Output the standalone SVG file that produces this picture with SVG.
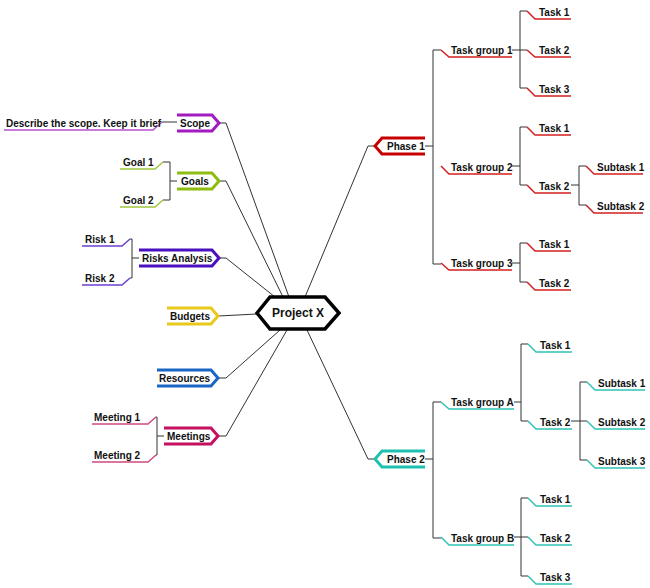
<svg xmlns="http://www.w3.org/2000/svg" width="650" height="588" viewBox="0 0 650 588">
<style>
text{font-family:"Liberation Sans",Arial,sans-serif;font-weight:bold;font-size:10px;fill:#111}
.c path,.c line{stroke:#333;stroke-width:1;fill:none}
.n{fill:none;stroke-width:3;stroke-linejoin:miter}
.l{fill:none;stroke-width:1.5}
.s{stroke:#a31bc0}.sl{stroke:#b84fd0}
.g{stroke:#8fbc10}.gl{stroke:#9fc840}
.r{stroke:#4a10c0}.rl{stroke:#6a40d0}
.b{stroke:#e8c81a}
.re{stroke:#1a66c4}
.m{stroke:#c4105e}.ml{stroke:#d04a82}
.p1{stroke:#c80000}.p1l{stroke:#d22020}
.p2{stroke:#1ec0b0}.p2l{stroke:#30c4b4}
</style>
<g class="c" id="connectors">
<path d="M219,123H226L289,297"/>
<path d="M219,181H226L283,297"/>
<path d="M219,258H226L275,297"/>
<path d="M218,316L257,314"/>
<path d="M218,378H226L280,330"/>
<path d="M218,436H226L287,330"/>
<path d="M375,146H368L305,297"/>
<path d="M375,459H368L307,330"/>
<path d="M177,122H162"/>
<path d="M177,181H170M163,162H170V200H163"/>
<path d="M139,258H132M130,239H132V278H130"/>
<path d="M164,436H157M156,417H157V455H156"/>
<path d="M425,146H433M441,50H433V264H441"/>
<path d="M512,50H520M527,11H520V88H527M520,50H527"/>
<path d="M512,166H520M527,127H520V185H527"/>
<path d="M571,185H579M586,166H579V205H586"/>
<path d="M512,263H520M527,243H520V282H527"/>
<path d="M425,459H433M441,402H433V538H441"/>
<path d="M514,402H521M528,344H521V421H528"/>
<path d="M571,421H580M587,382H580V460H587M580,421H587"/>
<path d="M514,537H521M528,498H521V576H528M521,537H528"/>
</g>
<g id="projectx"><path d="M257,313L270,297H325L339,313L325,329H270Z" fill="#fff" stroke="#000" stroke-width="3.5"/><text x="298" y="317" text-anchor="middle" style="font-size:12px">Project X</text></g>
<g id="scope"><path class="n s" d="M177,115H212L219,123L212,131H177"/><text x="180" y="127">Scope</text></g>
<g id="scope-desc"><path class="l sl" d="M4,130H153L162,122"/><text x="6" y="127">Describe the scope. Keep it brief</text></g>
<g id="goals"><path class="n g" d="M177,173H212L219,181L212,189H177"/><text x="181" y="185">Goals</text></g>
<g id="goal1"><path class="l gl" d="M120,169H155L163,162"/><text x="123" y="166">Goal 1</text></g>
<g id="goal2"><path class="l gl" d="M120,207H155L163,200"/><text x="123" y="204">Goal 2</text></g>
<g id="risks"><path class="n r" d="M139,250H212L219,258L212,266H139"/><text x="142" y="262">Risks Analysis</text></g>
<g id="risk1"><path class="l rl" d="M82,246H122L130,239"/><text x="85" y="243">Risk 1</text></g>
<g id="risk2"><path class="l rl" d="M82,285H122L130,278"/><text x="85" y="282">Risk 2</text></g>
<g id="budgets"><path class="n b" d="M167,308H211L218,316L211,324H167"/><text x="170" y="320">Budgets</text></g>
<g id="resources"><path class="n re" d="M157,370H211L218,378L211,386H157"/><text x="159" y="382">Resources</text></g>
<g id="meetings"><path class="n m" d="M164,428H211L218,436L211,444H164"/><text x="167" y="440">Meetings</text></g>
<g id="meeting1"><path class="l ml" d="M92,424H148L156,417"/><text x="94" y="421">Meeting 1</text></g>
<g id="meeting2"><path class="l ml" d="M92,462H148L156,455"/><text x="94" y="459">Meeting 2</text></g>
<g id="phase1"><path class="n p1" d="M425,138H382L375,146L382,154H425"/><text x="387" y="150">Phase 1</text></g>
<g id="tg1"><path class="l p1l" d="M441,50L449,57H512"/><text x="451" y="54">Task group 1</text></g>
<g id="tg1t1"><path class="l p1l" d="M527,11L535,19H571"/><text x="539" y="16">Task 1</text></g>
<g id="tg1t2"><path class="l p1l" d="M527,50L535,57H571"/><text x="539" y="54">Task 2</text></g>
<g id="tg1t3"><path class="l p1l" d="M527,88L535,96H571"/><text x="539" y="93">Task 3</text></g>
<g id="tg2"><path class="l p1l" d="M441,166L449,174H512"/><text x="451" y="171">Task group 2</text></g>
<g id="tg2t1"><path class="l p1l" d="M527,127L535,135H571"/><text x="539" y="132">Task 1</text></g>
<g id="tg2t2"><path class="l p1l" d="M527,185L535,193H571"/><text x="539" y="190">Task 2</text></g>
<g id="tg2s1"><path class="l p1l" d="M586,166L594,174H643"/><text x="597" y="171">Subtask 1</text></g>
<g id="tg2s2"><path class="l p1l" d="M586,205L594,213H643"/><text x="597" y="210">Subtask 2</text></g>
<g id="tg3"><path class="l p1l" d="M441,263L449,270H512"/><text x="451" y="267">Task group 3</text></g>
<g id="tg3t1"><path class="l p1l" d="M527,243L535,251H571"/><text x="539" y="248">Task 1</text></g>
<g id="tg3t2"><path class="l p1l" d="M527,282L535,290H571"/><text x="539" y="287">Task 2</text></g>
<g id="phase2"><path class="n p2" d="M425,451H382L375,459L382,467H425"/><text x="387" y="463">Phase 2</text></g>
<g id="tga"><path class="l p2l" d="M441,402L449,409H514"/><text x="451" y="406">Task group A</text></g>
<g id="tgat1"><path class="l p2l" d="M528,344L536,352H572"/><text x="540" y="349">Task 1</text></g>
<g id="tgat2"><path class="l p2l" d="M528,421L536,429H572"/><text x="540" y="426">Task 2</text></g>
<g id="tgas1"><path class="l p2l" d="M587,382L595,390H645"/><text x="598" y="387">Subtask 1</text></g>
<g id="tgas2"><path class="l p2l" d="M587,421L595,429H645"/><text x="598" y="426">Subtask 2</text></g>
<g id="tgas3"><path class="l p2l" d="M587,460L595,468H645"/><text x="598" y="465">Subtask 3</text></g>
<g id="tgb"><path class="l p2l" d="M441,537L449,545H514"/><text x="451" y="542">Task group B</text></g>
<g id="tgbt1"><path class="l p2l" d="M528,498L536,506H572"/><text x="540" y="503">Task 1</text></g>
<g id="tgbt2"><path class="l p2l" d="M528,537L536,545H572"/><text x="540" y="542">Task 2</text></g>
<g id="tgbt3"><path class="l p2l" d="M528,576L536,584H572"/><text x="540" y="581">Task 3</text></g>
</svg>
